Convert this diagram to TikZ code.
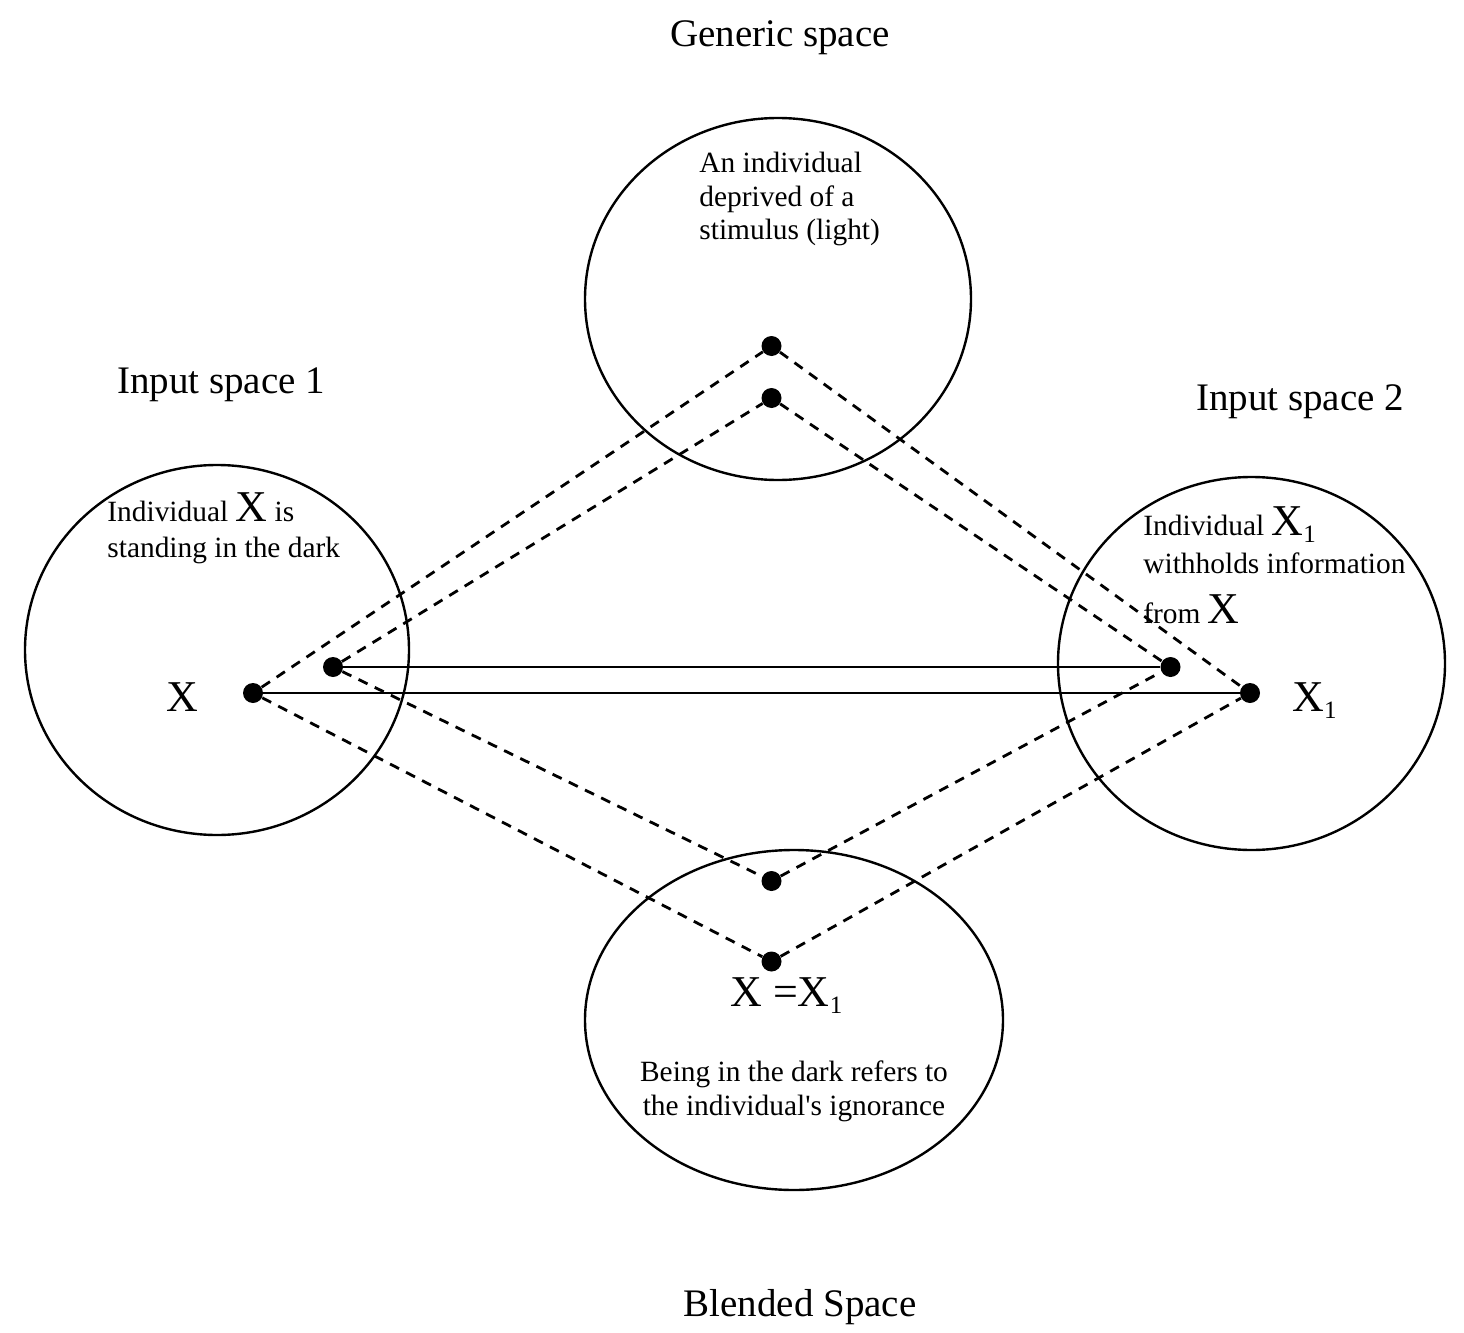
\documentclass[tikz,border=0pt]{standalone}
\usepackage{fontspec}
\setmainfont{Liberation Serif}
\usetikzlibrary{shapes.geometric}
\newcommand\bigletterX{{\fontsize{22}{22}\selectfont X}}
\newcommand\subone{\raisebox{-3.5pt}{\fontsize{12.5}{12.5}\selectfont 1}}
\begin{document}
\begin{tikzpicture}[x=0.5pt,y=-0.5pt,
  space/.style={draw, ellipse, line width=1.2pt, inner sep=0pt},
  dot/.style={circle, fill=black, inner sep=0pt, minimum size=10pt},
  link/.style={line width=1.4pt},
  map/.style={line width=1.4pt, dash pattern=on 5pt off 4pt},
  title/.style={font=\fontsize{19.5}{23}\selectfont, inner sep=0pt},
  body/.style={font=\fontsize{14.7}{16.7}\selectfont, align=left, inner sep=0pt},
  bigl/.style={font=\fontsize{22}{22}\selectfont, inner sep=0pt}]

\useasboundingbox (0,0) rectangle (1464,1333);

% spaces
\node[space, minimum width=193pt, minimum height=181pt] (gen) at (778,299) {};
\node[space, minimum width=192pt, minimum height=185pt] (in1) at (217,650) {};
\node[space, minimum width=193.5pt, minimum height=186.5pt] (in2) at (1251.5,663.5) {};
\node[space, minimum width=209pt, minimum height=170pt] (bl) at (794,1020) {};

% titles
\node[title, anchor=base] (tgen) at (780,46.7) {Generic space};
\node[title, anchor=base] (tin1) at (221,393.3) {Input space 1};
\node[title, anchor=base] (tin2) at (1300,410) {Input space 2};
\node[title, anchor=base] (tbl) at (800,1316.7) {Blended Space};

% texts
\node[body, anchor=north west] (txgen) at (699,152) {An individual\\deprived of a\\stimulus (light)};
\node[body, anchor=north west] (txin1) at (107,492.5) {Individual \bigletterX{} is\\[1.3pt]standing in the dark};
\node[body, anchor=north west] (txin2) at (1143,506) {Individual \bigletterX\subone\\[2.5pt]withholds information\\[8pt]from \bigletterX};
\node[body, align=center, anchor=base] (txbl) at (794,1115) {Being in the dark refers to\\the individual\textquotesingle s ignorance};

% labels
\node[bigl, anchor=base] (lx) at (182.5,711.7) {X};
\node[bigl, anchor=base west] (lx1) at (1292,711.7) {X\subone};
\node[bigl, anchor=base west] (lxx) at (730,1006.7) {X =X\subone};

% dots
\node[dot] (g1) at (771.5,346) {};
\node[dot] (g2) at (771.5,398) {};
\node[dot] (x) at (253,693) {};
\node[dot] (a) at (333,667) {};
\node[dot] (b) at (1170.5,667) {};
\node[dot] (x1) at (1250,693) {};
\node[dot] (b1) at (771.5,881) {};
\node[dot] (b2) at (771.5,961.5) {};

% connectors
\draw[link] (a) -- (b);
\draw[link] (x) -- (x1);
\draw[map] (x) -- (g1) -- (x1);
\draw[map] (a) -- (g2) -- (b);
\draw[map] (x) -- (b2) -- (x1);
\draw[map] (a) -- (b1) -- (b);
\end{tikzpicture}
\end{document}
